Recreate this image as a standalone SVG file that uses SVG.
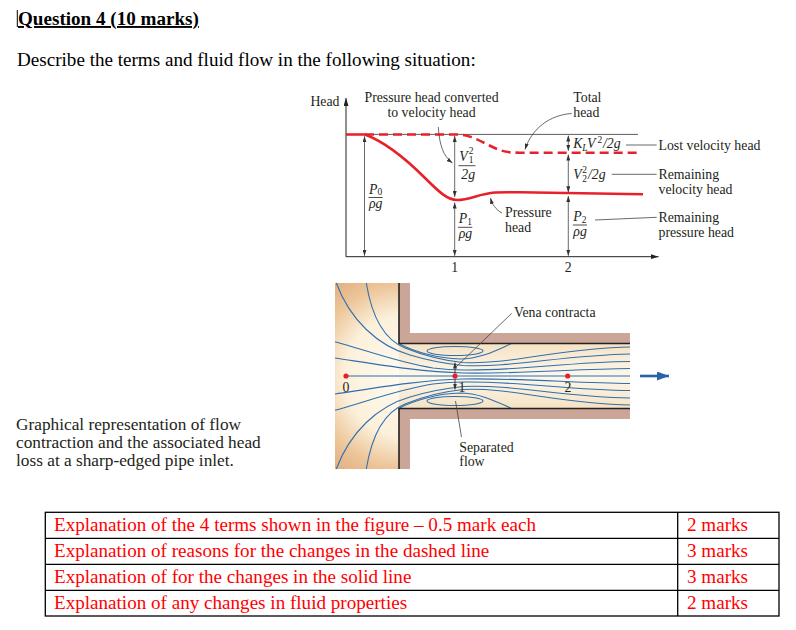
<svg xmlns="http://www.w3.org/2000/svg" width="796" height="630" viewBox="0 0 796 630">
<defs>
<style>
.doc{font-family:"Liberation Serif","Times New Roman",serif;font-size:19.1px;fill:#000}
.title{font-weight:bold;text-decoration:underline}
.red{fill:#ff0000}
.fig{font-family:"Liberation Serif","Times New Roman",serif;font-size:13.8px;fill:#231f20}
.cap{font-family:"Liberation Serif","Times New Roman",serif;font-size:17.3px;fill:#231f20}
.mi{font-style:italic}
.sm{font-size:9.5px;font-style:normal}
.dim{stroke:#444;stroke-width:0.8;fill:none;marker-start:url(#dim);marker-end:url(#dim)}
.lead{stroke:#444;stroke-width:0.8;fill:none}
.bar{stroke:#231f20;stroke-width:0.8}
.sl{stroke:#2f6fb0;stroke-width:1.1;fill:none}
.wall{fill:#cba597}
.edge{stroke:#222;stroke-width:1.6;fill:none}
.dot{fill:#e8202a}
.tbl{stroke:#000;stroke-width:1.3;fill:none}
</style>
<marker id="dim" viewBox="0 0 6 4" refX="6" refY="2" markerWidth="6" markerHeight="4" markerUnits="userSpaceOnUse" orient="auto-start-reverse"><path d="M0,0 L6,2 L0,4 z" fill="#333"/></marker>
<marker id="lead" viewBox="0 0 6 4" refX="6" refY="2" markerWidth="6" markerHeight="4" markerUnits="userSpaceOnUse" orient="auto"><path d="M0,0 L6,2 L0,4 z" fill="#333"/></marker>
<marker id="axis" viewBox="0 0 8 5" refX="8" refY="2.5" markerWidth="8" markerHeight="5" markerUnits="userSpaceOnUse" orient="auto"><path d="M0,0 L8,2.5 L0,5 z" fill="#222"/></marker>
<marker id="flow" viewBox="0 0 12 9" refX="12" refY="4.5" markerWidth="12" markerHeight="9" markerUnits="userSpaceOnUse" orient="auto"><path d="M0,0 L12,4.5 L0,9 z" fill="#2a64a8"/></marker>
<radialGradient id="tankGrad" gradientUnits="userSpaceOnUse" cx="405" cy="376" r="122">
<stop offset="0" stop-color="#fffcf2"/>
<stop offset="0.5" stop-color="#fcf0da"/>
<stop offset="0.76" stop-color="#ecc599"/>
<stop offset="1" stop-color="#dea979"/>
</radialGradient>
<linearGradient id="pipeGrad" gradientUnits="userSpaceOnUse" x1="0" y1="343.5" x2="0" y2="408.5">
<stop offset="0" stop-color="#f6e2c2"/>
<stop offset="0.5" stop-color="#fdf8ec"/>
<stop offset="1" stop-color="#f6e2c2"/>
</linearGradient>
</defs>
<rect x="0" y="0" width="796" height="630" fill="#fff"/>

<g id="heading">
<line x1="17.3" y1="10" x2="17.3" y2="27" stroke="#000" stroke-width="1"/>
<text class="doc title" x="18" y="25">Question 4 (10 marks)</text>
<text class="doc" x="17" y="65.7">Describe the terms and fluid flow in the following situation:</text>
</g>

<g id="head-graph">
<line x1="346" y1="256.7" x2="346" y2="98" stroke="#222" stroke-width="1" marker-end="url(#axis)"/>
<line x1="346" y1="256.7" x2="658.5" y2="256.7" stroke="#222" stroke-width="1" marker-end="url(#axis)"/>
<text class="fig" x="339.5" y="105.5" text-anchor="end">Head</text>
<text class="fig" x="454.7" y="271.7" text-anchor="middle">1</text>
<text class="fig" x="568.3" y="271.7" text-anchor="middle">2</text>
<line x1="346" y1="134.4" x2="638" y2="134.4" stroke="#333" stroke-width="0.8"/>
<path d="M346,134.5 L365,134.5 C385,142 405,158 425,178 C440,193 448,200 457,200 C470,200 478,194 495,192.5 C505,192 515,192.3 520,192.3 L643,194.3" stroke="#e8202a" stroke-width="2.6" fill="none"/>
<path d="M365,134.5 L457,134.5 C475,135 485,145 500,150 C505,152 510,152.7 520,152.7 L640,152.7" stroke="#e8202a" stroke-width="2.6" fill="none" stroke-dasharray="9 5"/>
</g>

<g id="dim-arrows">
<line class="dim" x1="364.5" y1="136.2" x2="364.5" y2="255.8"/>
<line class="dim" x1="454.7" y1="136" x2="454.7" y2="197"/>
<line class="dim" x1="454.7" y1="202.5" x2="454.7" y2="255.8"/>
<line class="dim" x1="568.3" y1="135.5" x2="568.3" y2="150.8"/>
<line class="dim" x1="568.3" y1="154.6" x2="568.3" y2="192.3"/>
<line class="dim" x1="568.3" y1="196" x2="568.3" y2="255.8"/>
</g>

<g id="term-labels">
<text class="fig mi" x="369" y="193.5">P<tspan class="sm" dy="1.5">0</tspan></text>
<line class="bar" x1="368.5" y1="197.5" x2="382.7" y2="197.5"/>
<text class="fig mi" x="369" y="208">ρg</text>
<text class="fig mi" x="459.3" y="161">V<tspan class="sm" x="468.7" y="154">2</tspan><tspan class="sm" x="468.7" y="163.3">1</tspan></text>
<line class="bar" x1="458.5" y1="165.7" x2="475.5" y2="165.7"/>
<text class="fig mi" x="461.3" y="178.5">2g</text>
<text class="fig mi" x="458.7" y="223">P<tspan class="sm" dy="1.5">1</tspan></text>
<line class="bar" x1="458" y1="227.3" x2="472.3" y2="227.3"/>
<text class="fig mi" x="458.7" y="237.8">ρg</text>
<text class="fig mi" x="573.3" y="148.3">K<tspan class="sm" x="582.3" y="151.3" style="font-style:italic">L</tspan><tspan x="587" y="148.3">V</tspan><tspan class="sm" x="597.5" y="142.5">2</tspan><tspan x="603" y="148.3">/2g</tspan></text>
<text class="fig mi" x="573.3" y="179">V<tspan class="sm" x="582.3" y="172.5">2</tspan><tspan class="sm" x="582.3" y="182.3">2</tspan><tspan x="588" y="179">/2g</tspan></text>
<text class="fig mi" x="573.3" y="221">P<tspan class="sm" dy="1.5">2</tspan></text>
<line class="bar" x1="572.8" y1="225" x2="587" y2="225"/>
<text class="fig mi" x="573.3" y="235.5">ρg</text>
</g>

<g id="callouts">
<text class="fig" x="431.5" y="101.7" text-anchor="middle">Pressure head converted</text>
<text class="fig" x="431.5" y="116.7" text-anchor="middle">to velocity head</text>
<text class="fig" x="573.3" y="101.7">Total</text>
<text class="fig" x="573.3" y="116.7">head</text>
<text class="fig" x="505" y="217">Pressure</text>
<text class="fig" x="505" y="232">head</text>
<text class="fig" x="658.5" y="150">Lost velocity head</text>
<text class="fig" x="658.5" y="178.5">Remaining</text>
<text class="fig" x="658.5" y="193.5">velocity head</text>
<text class="fig" x="658.5" y="222">Remaining</text>
<text class="fig" x="658.5" y="236.7">pressure head</text>
</g>

<g id="flow-figure">
<rect x="335" y="283" width="64" height="186" fill="url(#tankGrad)"/>
<rect x="399" y="343.5" width="231" height="65" fill="url(#pipeGrad)"/>
<g id="upper-lines">
<path class="sl" d="M366.3,283 C372,318 385,340 405,348 C425,356 442,360.5 463,362.5 C510,365 560,348 630,347"/>
<path class="sl" d="M336.3,283 C350,320 378,346 410,355 C430,361 448,364 463,365.5 C510,368 565,355 630,354"/>
<path class="sl" d="M335,341.7 C365,350 400,363 433,368 C445,369.5 455,370 463,370 C515,371 570,362 630,361.5"/>
<path class="sl" d="M335,358 C375,364 420,372 463,373 C520,374 575,369 630,368.5"/>
<path class="sl" d="M399.5,344 C415,352 438,358.5 460,359 C480,359 497,350 511,343.8"/>
<ellipse class="sl" cx="455" cy="351" rx="28" ry="4.5"/>
</g>
<use href="#upper-lines" transform="matrix(1,0,0,-1,0,752)"/>
<line class="sl" x1="346" y1="376" x2="630" y2="376"/>
<path class="wall" d="M399,283 H410 V333 H630 V343.5 H399 Z"/>
<path class="wall" d="M399,469 H410 V419 H630 V408.5 H399 Z"/>
<path class="edge" d="M399,283 V343.5 H630"/>
<path class="edge" d="M399,469 V408.5 H630"/>
<line x1="455" y1="373.5" x2="455" y2="362.5" stroke="#222" stroke-width="0.8" marker-end="url(#lead)"/>
<line x1="455" y1="378.5" x2="455" y2="389.5" stroke="#222" stroke-width="0.8" marker-end="url(#lead)"/>
<circle class="dot" cx="346" cy="376" r="2.6"/>
<circle class="dot" cx="455" cy="376" r="2.6"/>
<circle class="dot" cx="567.7" cy="376" r="2.6"/>
<text class="fig" x="346" y="391.7" text-anchor="middle">0</text>
<text class="fig" x="462" y="391.7" text-anchor="middle">1</text>
<text class="fig" x="568" y="391.7" text-anchor="middle">2</text>
<line x1="640" y1="376" x2="669" y2="376" stroke="#2a64a8" stroke-width="2.6" marker-end="url(#flow)"/>
<text class="fig" x="514" y="316.7">Vena contracta</text>
<text class="fig" x="459.3" y="451.7">Separated</text>
<text class="fig" x="459.3" y="466">flow</text>
</g>

<g id="connectors">
<path class="lead" d="M438.3,127 C439.5,145 443,156 452.5,163" marker-end="url(#lead)"/>
<path class="lead" d="M571.7,113.5 C550,115 532,128 525,149.5" marker-end="url(#lead)"/>
<path class="lead" d="M502,213 C496,210 492,204 490.5,198" marker-end="url(#lead)"/>
<line class="lead" x1="626" y1="145" x2="656.7" y2="145"/>
<line class="lead" x1="611.7" y1="174.3" x2="656.7" y2="174.3"/>
<line class="lead" x1="595" y1="220" x2="656.7" y2="217.3"/>
<line class="lead" x1="511.7" y1="313.3" x2="456" y2="367"/>
<line class="lead" x1="455.5" y1="401" x2="461.5" y2="437"/>
</g>

<g id="caption">
<text class="cap" x="16" y="430">Graphical representation of flow</text>
<text class="cap" x="16" y="448">contraction and the associated head</text>
<text class="cap" x="16" y="466">loss at a sharp-edged pipe inlet.</text>
</g>

<g id="marks-table">
<rect class="tbl" x="45.3" y="512.3" width="733.7" height="103.7"/>
<line class="tbl" x1="45.3" y1="538.3" x2="779" y2="538.3"/>
<line class="tbl" x1="45.3" y1="564.3" x2="779" y2="564.3"/>
<line class="tbl" x1="45.3" y1="590.3" x2="779" y2="590.3"/>
<line class="tbl" x1="677.7" y1="512.3" x2="677.7" y2="616"/>
<text class="doc red" x="54" y="531">Explanation of the 4 terms shown in the figure – 0.5 mark each</text>
<text class="doc red" x="54" y="557">Explanation of reasons for the changes in the dashed line</text>
<text class="doc red" x="54" y="583">Explanation of for the changes in the solid line</text>
<text class="doc red" x="54" y="609">Explanation of any changes in fluid properties</text>
<text class="doc red" x="687" y="531">2 marks</text>
<text class="doc red" x="687" y="557">3 marks</text>
<text class="doc red" x="687" y="583">3 marks</text>
<text class="doc red" x="687" y="609">2 marks</text>
</g>
</svg>
